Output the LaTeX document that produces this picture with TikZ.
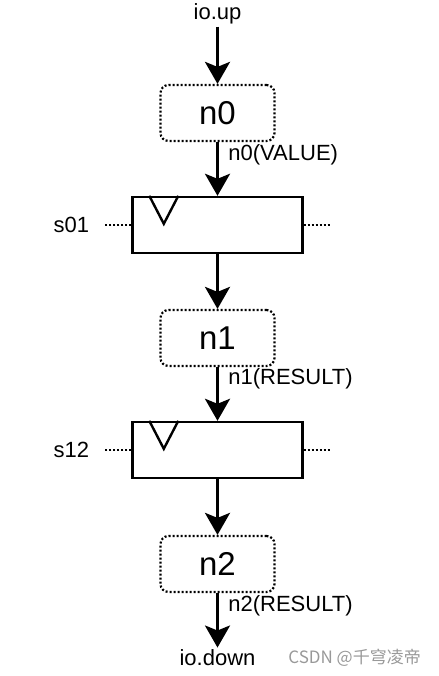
\documentclass[tikz,border=0pt]{standalone}
\usepackage{fontspec}
\setmainfont{Liberation Sans}
\newfontfamily\cjk{Noto Sans CJK SC}
\usepackage{tikz}
\usetikzlibrary{arrows.meta}

\tikzset{
    flow/.style={line width=1.5pt, -{Stealth[length=11pt,width=12.5pt,inset=2.5pt]}},
    comb/.style={draw, rounded corners=4pt, line width=1.1pt, dash pattern=on 1pt off 1pt,
                 minimum width=57pt, minimum height=28pt, font=\fontsize{16.5}{18}\selectfont},
    reg/.style={draw, line width=1.2pt, minimum width=85pt, minimum height=28pt, inner sep=0pt},
    stub/.style={line width=1.1pt, dash pattern=on 1pt off 1pt},
    lbl/.style={inner sep=1pt, font=\fontsize{11}{12}\selectfont},
}

\begin{document}
\begin{tikzpicture}[x=0.5pt, y=-0.5pt]
        % Page frame
        \useasboundingbox (0,0) rectangle (439,676);

        % Ports and stages
        \node[lbl] (ioup) at (217.5,14) {io.up};
        \node[comb] (n0) at (217.5,113) {n0};
        \node[reg] (s01) at (217.5,225) {};
        \node[comb] (n1) at (217.5,338) {n1};
        \node[reg] (s12) at (217.5,450) {};
        \node[comb] (n2) at (217.5,564) {n2};
        \node[lbl] (iodown) at (217.5,658) {io.down};

        % Clock marks and side stubs of the registers
        \foreach \r/\t in {s01/s01, s12/s12} {
            \draw[line width=1.2pt] (\r.north west) ++(18,0) -- ++(14.5,28) -- ++(14.5,-28);
            \draw[stub] (\r.west) -- ++(-27,0) node[lbl, left=6pt] {\t};
            \draw[stub] (\r.east) -- ++(26,0);
        }

        % Data path
        \draw[flow] (ioup) -- (n0);
        \draw[flow] (n0) -- (s01);
        \draw[flow] (s01) -- (n1);
        \draw[flow] (n1) -- (s12);
        \draw[flow] (s12) -- (n2);
        \draw[flow] (n2) -- (iodown);

        % Signal names
        \node[lbl, anchor=west] (n0val) at (226,155) {n0(VALUE)};
        \node[lbl, anchor=west] (n1res) at (226,379) {n1(RESULT)};
        \node[lbl, anchor=west] (n2res) at (226,606) {n2(RESULT)};

        % Watermark
        \node[anchor=west, inner sep=0pt, text=black!40, font=\cjk\fontsize{8.5}{9}\selectfont] (mark) at (288,658) {CSDN @千穹凌帝};
    \end{tikzpicture}
\end{document}
